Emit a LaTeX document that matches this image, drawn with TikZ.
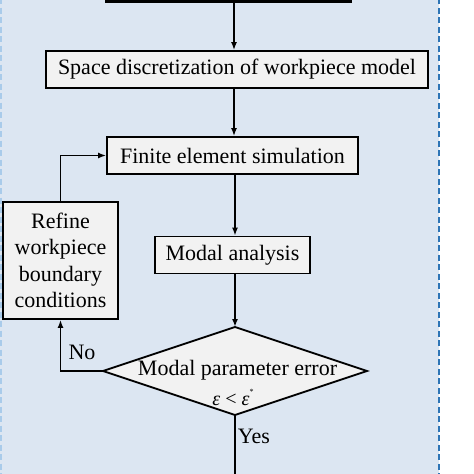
\documentclass[tikz,border=0pt]{standalone}
\usepackage{fontspec}
\setmainfont{Liberation Serif}
\usetikzlibrary{arrows.meta,positioning,calc}
\definecolor{bgblue}{HTML}{DCE6F2}
\definecolor{boxfill}{HTML}{F2F2F2}
\definecolor{dashblue}{HTML}{2E75B6}
\definecolor{edgeblue}{HTML}{A9CBEA}
\tikzset{
  procbox/.style={draw=black, fill=boxfill, line width=1.8pt, inner sep=0pt, font=\fontsize{22}{26.5}\selectfont, align=center},
  arr/.style={line width=1.6pt, -{Latex[length=8pt,width=6pt]}},
  plainline/.style={line width=1.6pt},
  lbl/.style={font=\fontsize{22}{26}\selectfont, inner sep=0pt}
}
\begin{document}
\begin{tikzpicture}[x=1pt,y=-1pt]
\useasboundingbox (0,0) rectangle (474,474);
\fill[bgblue] (0,0) rectangle (439,474);
\draw[dashblue, line width=1.8pt, dash pattern=on 6pt off 3.5pt] (439,-2) -- (439,476);
\draw[edgeblue, line width=1.5pt, dash pattern=on 6pt off 3.5pt] (0.8,-2) -- (0.8,476);
% boxes
\node[procbox, line width=2.4pt, minimum width=245pt, minimum height=44pt] (top) at (228.5,-20.5) {};
\node[procbox, minimum width=382pt, minimum height=37pt] (space) at (237,69.5) {Space discretization of workpiece model};
\node[procbox, minimum width=251pt, minimum height=37pt] (fem) at (232.5,155.5) {Finite element simulation};
\node[procbox, minimum width=155pt, minimum height=37pt] (modal) at (232.5,255) {Modal analysis};
\node[procbox, minimum width=115pt, minimum height=117pt] (refine) at (60.5,260.5) {Refine\\workpiece\\boundary\\conditions};
% diamond
\coordinate (dc) at (235,371);
\coordinate (dtop) at (235,327);
\coordinate (dbot) at (235,415);
\coordinate (dleft) at (103,371);
\coordinate (dright) at (367,371);
\filldraw[fill=boxfill, draw=black, line width=1.8pt, line join=miter] (dtop) -- (dright) -- (dbot) -- (dleft) -- cycle;
\node[lbl] (dtext) at (237.5,370) {Modal parameter error};
\node[lbl, font=\fontsize{20}{24}\selectfont] (deps) at (233,397) {\textit{ε} < \textit{ε}\raisebox{0.55em}{\fontsize{8}{8}\selectfont *}};
% connectors
\coordinate (xa) at (234,0);
\coordinate (xb) at (235,0);
\coordinate (outend) at (235,476);
\draw[arr] (top.south -| xa) -- (space.north -| xa);
\draw[arr] (space.south -| xa) -- (fem.north -| xa);
\draw[arr] (fem.south -| xb) -- (modal.north -| xb);
\draw[arr] (modal.south -| xb) -- (dtop);
\draw[arr] (dleft) -| (refine.south);
\draw[arr] (refine.north) |- (fem.west);
\draw[plainline] (dbot) -- (outend);
% labels
\node[lbl] (no) at (82,352) {No};
\node[lbl] (yes) at (254,436) {Yes};
\end{tikzpicture}
\end{document}
